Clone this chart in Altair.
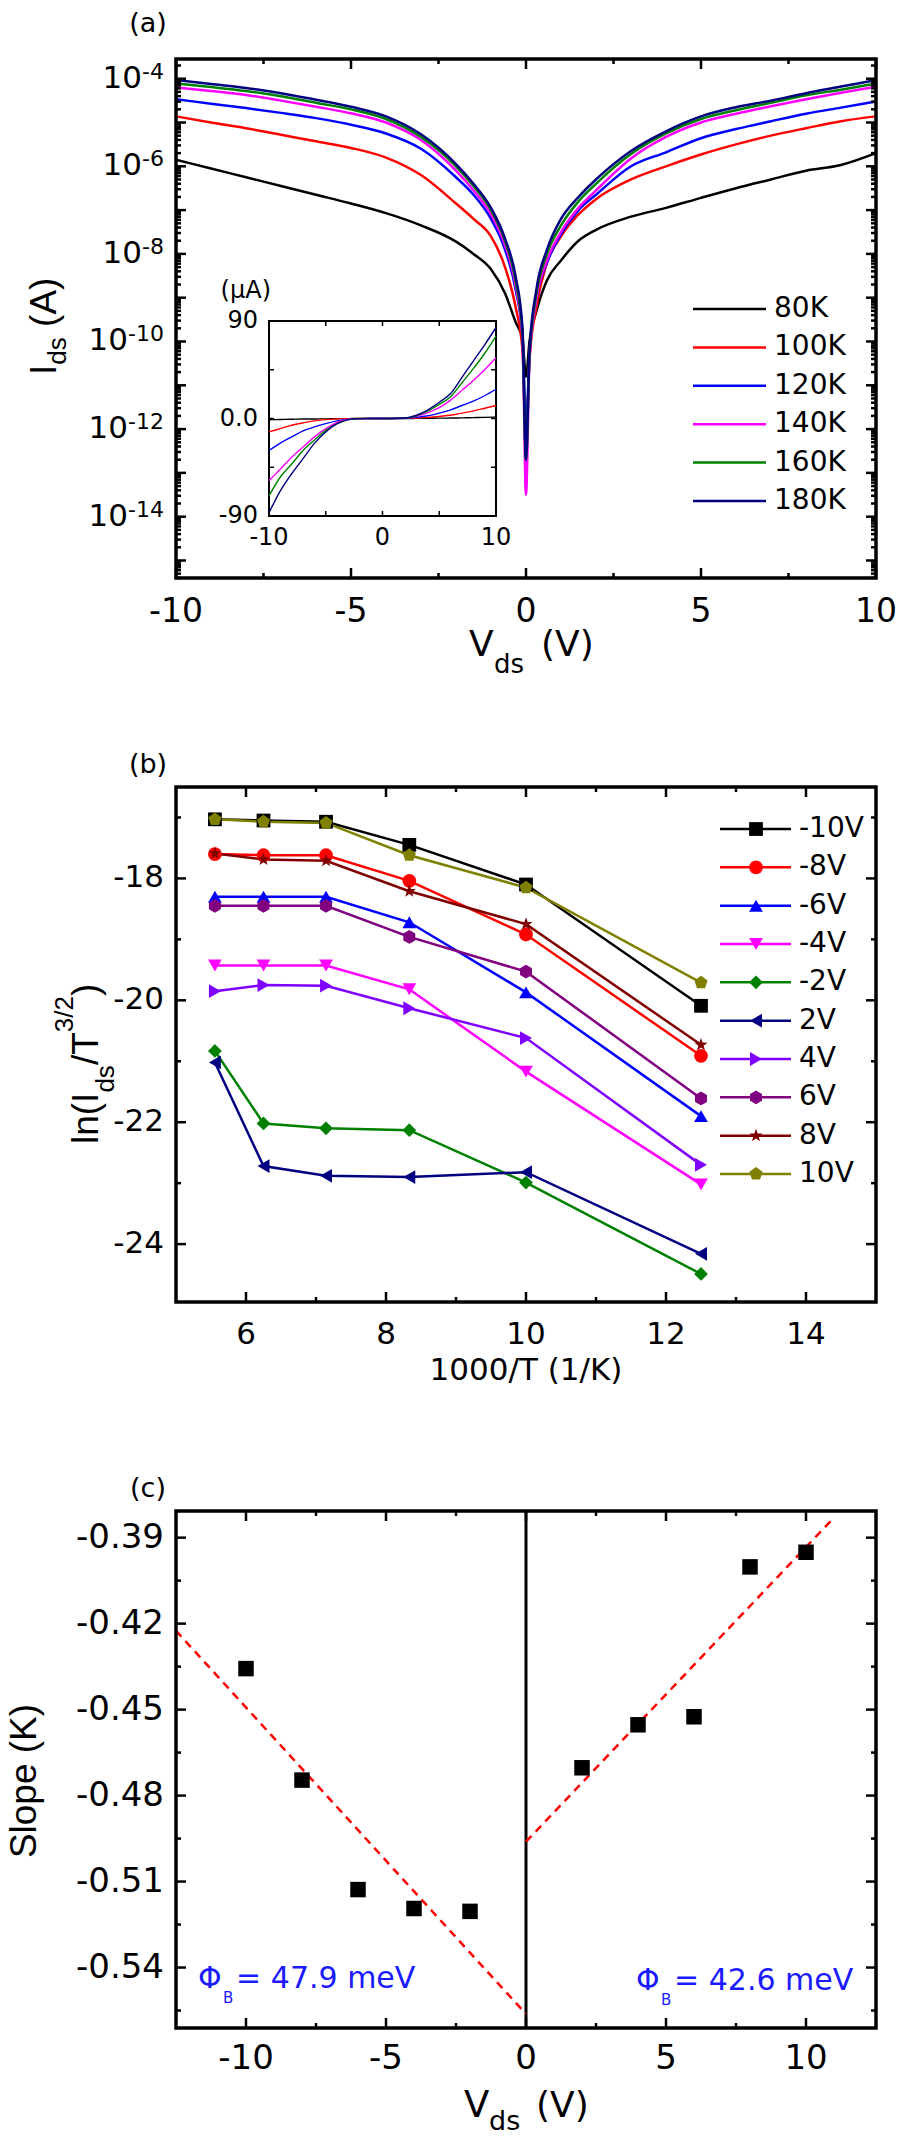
import altair as alt
import pandas as pd

FONT = "DejaVu Sans"
RFONT = "Liberation Sans"
ANN_BLUE = "#1a1aff"

# ---------------- panel (a): Ids-Vds curves (log10 of current) ----------------
TEMPS = ["80K", "100K", "120K", "140K", "160K", "180K"]
COLORS_A = ["#000000", "#ff0000", "#0000ff", "#ff00ff", "#008000", "#000080"]
V_GRID = [-10, -9, -8, -7, -6, -5, -4, -3, -2, -1.5, -1, -0.6, -0.3, -0.1, 0,
          0.1, 0.3, 0.6, 1, 1.5, 2, 3, 4, 5, 6, 7, 8, 9, 10]
LOGI_80K = [-5.85, -6.05, -6.25, -6.45, -6.65, -6.85, -7.07, -7.35, -7.72, -8.0, -8.35, -8.9, -9.55, -9.95, -10.8,
            -10.0, -9.3, -8.6, -8.15, -7.7, -7.45, -7.15, -6.95, -6.72, -6.5, -6.3, -6.1, -5.97, -5.7]
LOGI_100K = [-4.86, -5.0, -5.13, -5.28, -5.43, -5.58, -5.8, -6.2, -6.85, -7.2, -7.6, -8.3, -9.2, -10.2, -12.4,
             -10.4, -9.2, -8.2, -7.6, -7.1, -6.75, -6.3, -6.0, -5.73, -5.5, -5.3, -5.13, -4.97, -4.86]
LOGI_120K = [-4.47, -4.57, -4.67, -4.78, -4.9, -5.05, -5.25, -5.6, -6.25, -6.65, -7.2, -7.9, -8.8, -9.9, -12.0,
             -10.3, -9.0, -8.2, -7.55, -7.0, -6.65, -6.0, -5.68, -5.36, -5.15, -4.97, -4.8, -4.66, -4.52]
LOGI_140K = [-4.2, -4.28, -4.37, -4.5, -4.64, -4.79, -5.0, -5.4, -6.1, -6.55, -7.1, -7.8, -8.7, -9.9, -13.5,
             -10.4, -9.0, -8.15, -7.5, -6.95, -6.55, -5.82, -5.33, -5.0, -4.8, -4.63, -4.47, -4.32, -4.18]
LOGI_160K = [-4.11, -4.19, -4.28, -4.4, -4.55, -4.7, -4.92, -5.33, -6.0, -6.45, -7.0, -7.7, -8.6, -9.8, -12.7,
             -10.3, -8.9, -8.0, -7.35, -6.8, -6.4, -5.72, -5.25, -4.92, -4.72, -4.55, -4.38, -4.25, -4.11]
LOGI_180K = [-4.03, -4.12, -4.21, -4.33, -4.48, -4.64, -4.86, -5.27, -5.95, -6.4, -6.95, -7.65, -8.5, -9.7, -12.7,
             -10.2, -8.8, -7.9, -7.2, -6.7, -6.3, -5.65, -5.2, -4.86, -4.65, -4.5, -4.33, -4.18, -4.03]
LOGI = [LOGI_80K, LOGI_100K, LOGI_120K, LOGI_140K, LOGI_160K, LOGI_180K]
DECADES_A = [-4, -6, -8, -10, -12, -14]
XLAB_A = [-10, -5, 0, 5, 10]

# inset (linear current, uA)
INSET_V = [-10, -9, -8, -7, -6, -5, -4, -3, -2, 0, 2, 3, 4, 5, 6, 7, 8, 9, 10]
INSET_80K = [-1.2, -0.9, -0.7, -0.5, -0.4, -0.3, -0.2, -0.1, 0, 0, 0, 0.1, 0.2, 0.3, 0.4, 0.6, 0.8, 1.0, 1.4]
INSET_100K = [-12.4, -9.3, -6.2, -4, -2.2, -1, -0.3, -0.1, 0, 0, 0.1, 0.5, 1, 2, 3, 5, 7, 9.5, 12]
INSET_120K = [-29.5, -22.7, -17, -11.5, -7.8, -4.7, -2.2, -0.6, -0.1, 0, 0.2, 1, 2.5, 5, 8, 12, 16, 21, 27]
INSET_140K = [-57.5, -46.6, -35.7, -26.4, -17, -9.3, -3.7, -0.6, -0.1, 0, 0.3, 2, 5.5, 10, 17, 26, 35, 45, 56]
INSET_160K = [-71.4, -54, -42, -29.5, -20, -11, -4.7, -1, -0.1, 0, 0.4, 2.5, 7, 13, 20, 33, 46, 60, 76]
INSET_180K = [-87, -66.8, -51, -37, -23, -12.4, -4.7, -1, -0.1, 0, 0.5, 3, 8, 15, 23, 38, 53, 68, 84]
INSET = [INSET_80K, INSET_100K, INSET_120K, INSET_140K, INSET_160K, INSET_180K]
INSET_FRAME = [-10, 10, -90, 90]
INSET_XLABELS = [-10, 0, 10]
INSET_YLABELS = [-90, 0, 90]
INSET_XTICKS = [-5, 0, 5]
INSET_YTICKS = [-45, 0, 45]

# ---------------- panel (b): ln(I/T^1.5) vs 1000/T ----------------
SERIES_B = ["-10V", "-8V", "-6V", "-4V", "-2V", "2V", "4V", "6V", "8V", "10V"]
COLORS_B = ["#000000", "#ff0000", "#0000ff", "#ff00ff", "#008000",
            "#000080", "#8000ff", "#800080", "#800000", "#808000"]
INV_T = [5.556, 6.25, 7.143, 8.333, 10.0, 12.5]
LN_M10 = [-17.03, -17.05, -17.07, -17.45, -18.1, -20.09]
LN_M8 = [-17.6, -17.62, -17.62, -18.04, -18.92, -20.91]
LN_M6 = [-18.3, -18.3, -18.3, -18.72, -19.87, -21.9]
LN_M4 = [-19.43, -19.43, -19.43, -19.82, -21.17, -23.02]
LN_M2 = [-20.83, -22.02, -22.1, -22.13, -22.99, -24.49]
LN_P2 = [-21.02, -22.72, -22.88, -22.9, -22.82, -24.16]
LN_P4 = [-19.85, -19.75, -19.76, -20.13, -20.62, -22.7]
LN_P6 = [-18.45, -18.45, -18.45, -18.96, -19.53, -21.61]
LN_P8 = [-17.59, -17.69, -17.71, -18.21, -18.75, -20.73]
LN_P10 = [-17.03, -17.07, -17.09, -17.62, -18.15, -19.71]
LN_B = [LN_M10, LN_M8, LN_M6, LN_M4, LN_M2, LN_P2, LN_P4, LN_P6, LN_P8, LN_P10]
XLAB_B = [6, 8, 10, 12, 14]
YLAB_B = [-24, -22, -20, -18]
STAR = ("M0,-1L0.235,-0.324L0.951,-0.309L0.38,0.124L0.588,0.809L0,0.4"
        "L-0.588,0.809L-0.38,0.124L-0.951,-0.309L-0.235,-0.324Z")
PENT = "M0,-1L0.951,-0.309L0.588,0.809L-0.588,0.809L-0.951,-0.309Z"
HEXA = "M0,-1L0.866,-0.5L0.866,0.5L0,1L-0.866,0.5L-0.866,-0.5Z"
SHAPES_B = ["square", "circle", "triangle-up", "triangle-down", "diamond",
            "triangle-left", "triangle-right", HEXA, STAR, PENT]

# ---------------- panel (c): slope vs Vds ----------------
VC = [-10, -8, -6, -4, -2, 2, 4, 6, 8, 10]
SLOPE = [-0.4357, -0.4746, -0.5128, -0.5194, -0.5204, -0.4703, -0.4553, -0.4525, -0.4002, -0.3951]
FIT_NEG_X = [-12.5, 0.0]
FIT_NEG_Y = [-0.4225, -0.5562]
FIT_POS_X = [0.0, 11.0]
FIT_POS_Y = [-0.4961, -0.3830]
ZERO_X = [0]
PHI_X = [-11.71, 3.93]
PHI_Y = [-0.5472, -0.5480]
PHI_TEXT = ["= 47.9 meV", "= 42.6 meV"]
XLAB_C = [-10, -5, 0, 5, 10]
YLAB_C = [-0.54, -0.51, -0.48, -0.45, -0.42, -0.39]

W = 700
H_A, H_B, H_C = 519, 515, 517
DV = {"-": 0.361, **{str(i): 0.636 for i in range(10)}}


def fmt_expr(fmt):
    return f"replace(format(datum.v, '{fmt}'), '\u2212', '-')"


def txt(s, x, y, size, font=FONT, align="left", baseline="alphabetic", angle=None,
        dx=0, dy=0, color="black"):
    kw = dict(align=align, baseline=baseline, font=font, fontSize=size, color=color)
    if dx:
        kw["dx"] = dx
    if dy:
        kw["dy"] = dy
    if angle is not None:
        kw["angle"] = angle
    return alt.Chart(pd.DataFrame({"s": [s]})).mark_text(**kw).encode(
        x=alt.value(x), y=alt.value(y), text="s:N")


def xlabels(vals, xs, ypix, size, fmt="d"):
    return alt.Chart(pd.DataFrame({"v": vals})).transform_calculate(s=fmt_expr(fmt)).mark_text(
        font=FONT, fontSize=size, align="center", baseline="top", color="black").encode(
        x=alt.X("v:Q", scale=xs, axis=None), y=alt.value(ypix), text="s:N")


def ylabels(vals, ys, xpix, size, fmt="d"):
    return alt.Chart(pd.DataFrame({"v": vals})).transform_calculate(s=fmt_expr(fmt)).mark_text(
        font=FONT, fontSize=size, align="right", baseline="middle", color="black").encode(
        y=alt.Y("v:Q", scale=ys, axis=None), x=alt.value(xpix), text="s:N")


def tick_rules(xs, ys, xmaj, xmin, ymaj, ymin, w, h, maj=10, mnr=5, sw=2.5):
    out = []
    for vals, L in ((xmaj, maj), (xmin, mnr)):
        d = pd.DataFrame({"tv": vals})
        for y0, y1 in ((h, h - L), (0, L)):
            out.append(alt.Chart(d).mark_rule(color="black", strokeWidth=sw).encode(
                x=alt.X("tv:Q", scale=xs, axis=None), y=alt.value(y0), y2=alt.value(y1)))
    for vals, L in ((ymaj, maj), (ymin, mnr)):
        d = pd.DataFrame({"tv": vals})
        for x0, x1 in ((0, L), (w, w - L)):
            out.append(alt.Chart(d).mark_rule(color="black", strokeWidth=sw).encode(
                y=alt.Y("tv:Q", scale=ys, axis=None), x=alt.value(x0), x2=alt.value(x1)))
    return out


def frame(w, h, sw=3.5):
    return alt.Chart(pd.DataFrame({"f": [0]})).mark_rect(
        fillOpacity=0, stroke="black", strokeWidth=sw).encode(
        x=alt.value(0), x2=alt.value(w), y=alt.value(0), y2=alt.value(h))


# ======================= panel (a) =======================
df_a = pd.DataFrame([{"V": v, "I": 10.0 ** li, "T": t}
                     for t, arr in zip(TEMPS, LOGI) for v, li in zip(V_GRID, arr)])
xa = alt.Scale(domain=[-10, 10], nice=False, zero=False)
ya = alt.Scale(type="log", domain=[10 ** -15.4, 10 ** -3.55], nice=False)
color_a = alt.Color("T:N", scale=alt.Scale(domain=TEMPS, range=COLORS_A), legend=None)

lines_a = alt.Chart(df_a).mark_line(strokeWidth=2.5, interpolate="monotone").encode(
    x=alt.X("V:Q", scale=xa, axis=None), y=alt.Y("I:Q", scale=ya, axis=None), color=color_a)

YMAJ_A = [10.0 ** k for k in range(-15, -3)]
YMIN_A = [m * 10.0 ** k for k in range(-16, -3) for m in range(2, 10)
          if 10 ** -15.4 <= m * 10.0 ** k <= 10 ** -3.55]
ticks_a = tick_rules(xa, ya, XLAB_A, [-7.5, -2.5, 2.5, 7.5], YMAJ_A, YMIN_A, W, H_A)

df_dec = pd.DataFrame({"I": [10.0 ** d for d in DECADES_A], "base": ["10"] * len(DECADES_A),
                       "exp": [str(d) for d in DECADES_A], "n": [len(str(d)) for d in DECADES_A]})
ylab_a = []
for n in sorted(set(df_dec["n"])):
    w = sum(DV[c] for c in "-1" + "4" * (n - 2)) * 22
    sel = alt.datum.n == int(n)
    ylab_a.append(alt.Chart(df_dec).transform_filter(sel).mark_text(
        align="right", baseline="middle", font=FONT, fontSize=31, color="black").encode(
        x=alt.value(-12 - w), y=alt.Y("I:Q", scale=ya, axis=None), text="base:N"))
    ylab_a.append(alt.Chart(df_dec).transform_filter(sel).mark_text(
        align="right", baseline="middle", font=FONT, fontSize=22, dy=-7, color="black").encode(
        x=alt.value(-12), y=alt.Y("I:Q", scale=ya, axis=None), text="exp:N"))

titles_a = [
    txt("(a)", -28, -35, 27, align="center", baseline="middle"),
    txt("V", 293, 597, 36), txt("ds", 318, 614, 26), txt("(V)", 365, 597, 36),
    txt("I", -120, 316, 37, font=RFONT, angle=270),
    txt("ds", -120, 316, 26, font=RFONT, angle=270, dx=10.3, dy=10),
    txt("(A)", -120, 316, 37, font=RFONT, angle=270, dx=48.1),
]
anchor = alt.Chart(pd.DataFrame({"a": [0]})).mark_rule(color="white", strokeWidth=0.01).encode(
    x=alt.value(-175), y=alt.value(-58), y2=alt.value(0))

core_a = alt.layer(lines_a, *ylab_a, xlabels(XLAB_A, xa, H_A + 18, 33), *ticks_a,
                   *titles_a, anchor)

# legend (a)
df_leg_a = pd.DataFrame({"T": TEMPS, "row": list(range(len(TEMPS)))})
yleg_a = alt.Scale(domain=[0, 5], range=[250, 442], nice=False, zero=False)
legend_a = alt.layer(
    alt.Chart(df_leg_a).mark_rule(strokeWidth=2.5).encode(
        x=alt.value(517), x2=alt.value(590),
        y=alt.Y("row:Q", scale=yleg_a, axis=None), color=color_a),
    alt.Chart(df_leg_a).mark_text(align="left", baseline="middle", font=FONT, fontSize=28,
                                  color="black").encode(
        x=alt.value(598), y=alt.Y("row:Q", scale=yleg_a, axis=None), text="T:N"),
)

# inset (a)
xi = alt.Scale(domain=[-10, 10], range=[93, 320], nice=False, zero=False)
yi = alt.Scale(domain=[-90, 90], range=[457, 262], nice=False, zero=False)
df_in = pd.DataFrame([{"V": v, "uA": c, "T": t}
                      for t, arr in zip(TEMPS, INSET) for v, c in zip(INSET_V, arr)])
df_if = pd.DataFrame({"x1": [INSET_FRAME[0]], "x2": [INSET_FRAME[1]],
                      "y1": [INSET_FRAME[2]], "y2": [INSET_FRAME[3]]})
inset_frame = alt.Chart(df_if).mark_rect(fill="white", stroke="black", strokeWidth=2).encode(
    x=alt.X("x1:Q", scale=xi, axis=None), x2="x2:Q",
    y=alt.Y("y1:Q", scale=yi, axis=None), y2="y2:Q")
inset_lines = alt.Chart(df_in).mark_line(strokeWidth=1.4, interpolate="monotone").encode(
    x=alt.X("V:Q", scale=xi, axis=None), y=alt.Y("uA:Q", scale=yi, axis=None), color=color_a)
inset_xlab = alt.Chart(pd.DataFrame({"v": INSET_XLABELS})).transform_calculate(
    s=fmt_expr("d")).mark_text(font=FONT, fontSize=24, baseline="middle", align="center",
                               color="black").encode(
    x=alt.X("v:Q", scale=xi, axis=None), y=alt.value(479), text="s:N")
inset_ylab = alt.Chart(pd.DataFrame({"v": INSET_YLABELS})).transform_calculate(
    s="datum.v == 0 ? '0.0' : " + fmt_expr("d")).mark_text(
    font=FONT, fontSize=24, baseline="middle", align="right", color="black").encode(
    y=alt.Y("v:Q", scale=yi, axis=None), x=alt.value(82), text="s:N")
df_ixt = pd.DataFrame({"v": INSET_XTICKS})
df_iyt = pd.DataFrame({"v": INSET_YTICKS})
inset_ticks = [
    alt.Chart(df_ixt).mark_rule(color="black", strokeWidth=1.5).encode(
        x=alt.X("v:Q", scale=xi, axis=None), y=alt.value(457), y2=alt.value(452)),
    alt.Chart(df_ixt).mark_rule(color="black", strokeWidth=1.5).encode(
        x=alt.X("v:Q", scale=xi, axis=None), y=alt.value(262), y2=alt.value(267)),
    alt.Chart(df_iyt).mark_rule(color="black", strokeWidth=1.5).encode(
        y=alt.Y("v:Q", scale=yi, axis=None), x=alt.value(93), x2=alt.value(98)),
    alt.Chart(df_iyt).mark_rule(color="black", strokeWidth=1.5).encode(
        y=alt.Y("v:Q", scale=yi, axis=None), x=alt.value(320), x2=alt.value(315)),
]
inset_a = alt.layer(inset_frame, inset_lines, *inset_ticks, inset_xlab, inset_ylab,
                    txt("(\u03bcA)", 95, 239, 24, align="right"))

panel_a = alt.layer(core_a, legend_a, inset_a, frame(W, H_A)).resolve_scale(
    x="independent", y="independent").properties(width=W, height=H_A)

# ======================= panel (b) =======================
df_b = pd.DataFrame([{"x": x, "y": y, "series": s}
                     for s, arr in zip(SERIES_B, LN_B) for x, y in zip(INV_T, arr)])
xb = alt.Scale(domain=[5, 15], nice=False, zero=False)
yb = alt.Scale(domain=[-24.95, -16.5], nice=False, zero=False)
color_b = alt.Color("series:N", scale=alt.Scale(domain=SERIES_B, range=COLORS_B), legend=None)
shape_b = alt.Shape("series:N", scale=alt.Scale(domain=SERIES_B, range=SHAPES_B), legend=None)

lines_b = alt.Chart(df_b).mark_line(strokeWidth=2.5).encode(
    x=alt.X("x:Q", scale=xb, axis=None), y=alt.Y("y:Q", scale=yb, axis=None), color=color_b)
points_b = alt.Chart(df_b).mark_point(filled=True, size=190, opacity=1).encode(
    x=alt.X("x:Q", scale=xb, axis=None), y=alt.Y("y:Q", scale=yb, axis=None),
    color=color_b, shape=shape_b)
ticks_b = tick_rules(xb, yb, XLAB_B, [7, 9, 11, 13], YLAB_B, [-23, -21, -19, -17], W, H_B)
titles_b = [
    txt("(b)", -28, -22, 27, align="center", baseline="middle"),
    txt("1000/T (1/K)", 350, 593, 31, align="center"),
    txt("ln(I", -78, 357, 37, font=RFONT, angle=270),
    txt("ds", -78, 357, 26, font=RFONT, angle=270, dx=51.4, dy=16),
    txt("/T", -78, 357, 37, font=RFONT, angle=270, dx=78.9),
    txt("3/2", -78, 357, 26, font=RFONT, angle=270, dx=111.8, dy=-25),
    txt(")", -78, 357, 37, font=RFONT, angle=270, dx=147.9),
]
core_b = alt.layer(lines_b, points_b, *ticks_b, xlabels(XLAB_B, xb, H_B + 18, 31),
                   ylabels(YLAB_B, yb, -12, 31), *titles_b)

df_leg_b = pd.DataFrame({"series": SERIES_B, "row": list(range(len(SERIES_B)))})
yleg_b = alt.Scale(domain=[0, 9], range=[42, 387], nice=False, zero=False)
legend_b = alt.layer(
    alt.Chart(df_leg_b).mark_rule(strokeWidth=2.5).encode(
        x=alt.value(544), x2=alt.value(615),
        y=alt.Y("row:Q", scale=yleg_b, axis=None), color=color_b),
    alt.Chart(df_leg_b).mark_point(filled=True, size=190, opacity=1).encode(
        x=alt.value(580), y=alt.Y("row:Q", scale=yleg_b, axis=None),
        color=color_b, shape=shape_b),
    alt.Chart(df_leg_b).mark_text(align="left", baseline="middle", font=FONT, fontSize=28,
                                  color="black").encode(
        x=alt.value(623), y=alt.Y("row:Q", scale=yleg_b, axis=None), text="series:N"),
)
panel_b = alt.layer(core_b, legend_b, frame(W, H_B)).resolve_scale(y="independent").properties(
    width=W, height=H_B)

# ======================= panel (c) =======================
df_c = pd.DataFrame({"x": VC, "y": SLOPE})
df_fit = pd.DataFrame({"x": FIT_NEG_X + FIT_POS_X, "y": FIT_NEG_Y + FIT_POS_Y,
                       "g": ["neg"] * len(FIT_NEG_X) + ["pos"] * len(FIT_POS_X)})
xc = alt.Scale(domain=[-12.5, 12.5], nice=False, zero=False)
yc = alt.Scale(domain=[-0.5611, -0.3807], nice=False, zero=False)

zero_c = alt.Chart(pd.DataFrame({"x": ZERO_X})).mark_rule(color="black", strokeWidth=3).encode(
    x=alt.X("x:Q", scale=xc, axis=None))
fit_c = alt.Chart(df_fit).mark_line(color="#ff0000", strokeWidth=2.5, strokeDash=[8, 6]).encode(
    x=alt.X("x:Q", scale=xc, axis=None), y=alt.Y("y:Q", scale=yc, axis=None), detail="g:N")
pts_c = alt.Chart(df_c).mark_square(size=240, color="black", opacity=1).encode(
    x=alt.X("x:Q", scale=xc, axis=None), y=alt.Y("y:Q", scale=yc, axis=None))
ticks_c = tick_rules(xc, yc, XLAB_C, [-7.5, -2.5, 2.5, 7.5], YLAB_C,
                     [-0.555, -0.525, -0.495, -0.465, -0.435, -0.405], W, H_C)
df_ann = pd.DataFrame({"x": PHI_X, "y": PHI_Y, "val": PHI_TEXT})
ann_enc = dict(x=alt.X("x:Q", scale=xc, axis=None), y=alt.Y("y:Q", scale=yc, axis=None))
ann_c = [
    alt.Chart(df_ann).mark_text(align="left", baseline="alphabetic", font=FONT, fontSize=30,
                                color=ANN_BLUE).encode(text=alt.value("\u03a6"), **ann_enc),
    alt.Chart(df_ann).mark_text(align="left", baseline="alphabetic", font=FONT, fontSize=15,
                                color=ANN_BLUE, dx=25, dy=15).encode(text=alt.value("B"), **ann_enc),
    alt.Chart(df_ann).mark_text(align="left", baseline="alphabetic", font=FONT, fontSize=30,
                                color=ANN_BLUE, dx=38).encode(text="val:N", **ann_enc),
]
titles_c = [
    txt("(c)", -28, -22, 27, align="center", baseline="middle"),
    txt("V", 288, 606, 37), txt("ds", 313, 619, 27), txt("(V)", 360, 606, 36),
    txt("Slope (K)", -140, 270, 37, font=RFONT, angle=270, align="center"),
]
panel_c = alt.layer(zero_c, fit_c, pts_c, *ann_c, *ticks_c, xlabels(XLAB_C, xc, H_C + 14, 34),
                    ylabels(YLAB_C, yc, -12, 34, fmt=".2f"), *titles_c,
                    frame(W, H_C)).properties(width=W, height=H_C)

chart = alt.vconcat(panel_a, panel_b, panel_c, spacing=209, bounds="flush").resolve_scale(
    color="independent", shape="independent").properties(
    padding=0, background="white").configure_view(stroke="transparent")

chart.save("out.html", embed_options={"renderer": "svg", "actions": False})
